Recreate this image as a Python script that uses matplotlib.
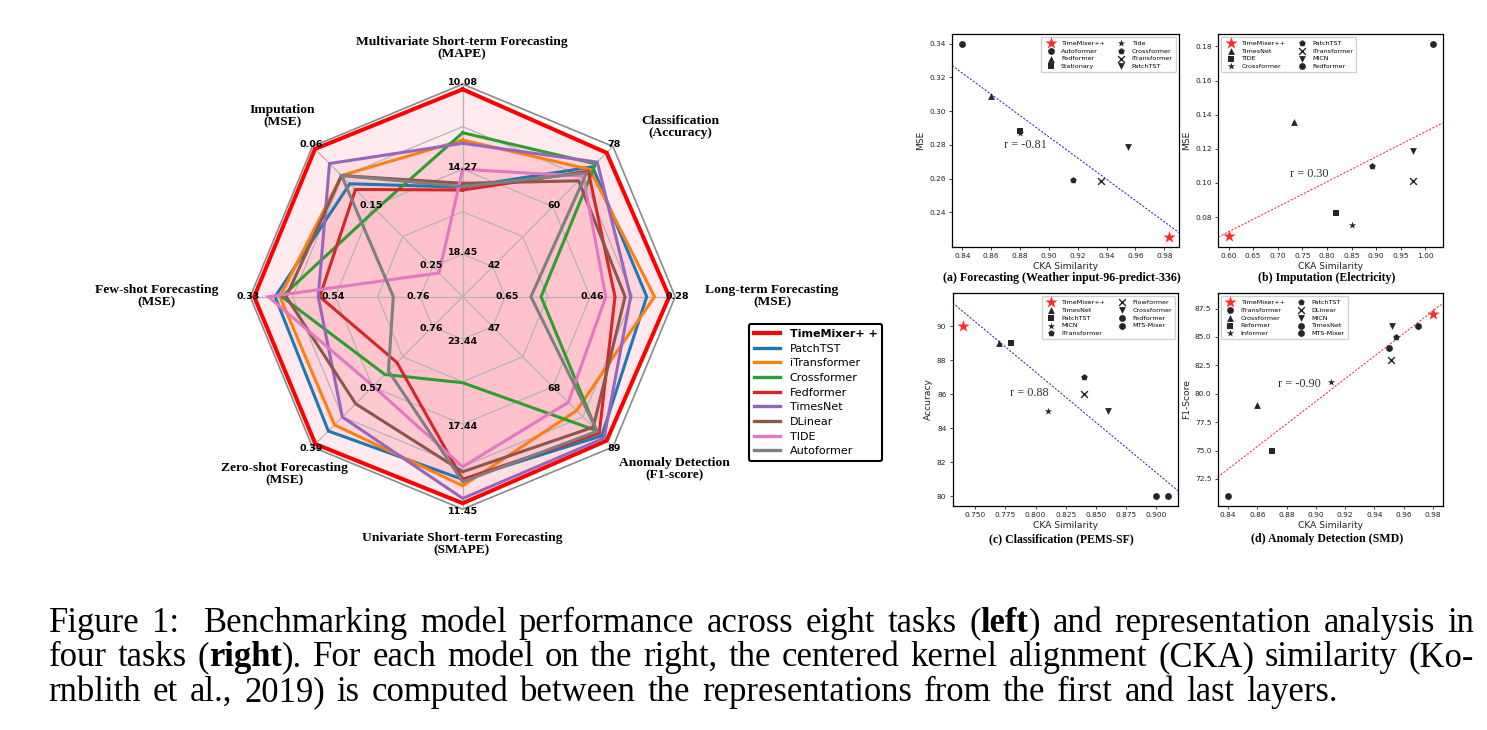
import numpy as np
import matplotlib
matplotlib.use("Agg")
import matplotlib.pyplot as plt
from matplotlib.lines import Line2D
from matplotlib.ticker import FormatStrFormatter

SERIF = "Liberation Serif"
SANS = "DejaVu Sans"

# ------------------------------------------------------------------ radar data
task_titles = [
    "Multivariate Short-term Forecasting\n(MAPE)",
    "Classification\n(Accuracy)",
    "Long-term Forecasting\n(MSE)",
    "Anomaly Detection\n(F1-score)",
    "Univariate Short-term Forecasting\n(SMAPE)",
    "Zero-shot Forecasting\n(MSE)",
    "Few-shot Forecasting\n(MSE)",
    "Imputation\n(MSE)",
]
# metric value printed on the inner ring (0.2) and on the outer ring (1.0)
axis_inner = [18.45, 42, 0.65, 47, 23.44, 0.76, 0.76, 0.25]
axis_outer = [10.08, 78, 0.28, 89, 11.45, 0.39, 0.33, 0.06]
label_inner = ["18.45", "42", "0.65", "47", "23.44", "0.76", "0.76", "0.25"]
label_mid = ["14.27", "60", "0.46", "68", "17.44", "0.57", "0.54", "0.15"]
label_outer = ["10.08", "78", "0.28", "89", "11.45", "0.39", "0.33", "0.06"]

model_names = ["TimeMixer+ +", "PatchTST", "iTransformer", "Crossformer", "Fedformer",
               "TimesNet", "DLinear", "TIDE", "Autoformer"]
timemixerpp = [10.33, 76.1, 0.293, 86.8, 11.87, 0.399, 0.340, 0.064]
patchtst = [15.15, 71.9, 0.342, 85.1, 13.55, 0.439, 0.393, 0.119]
itransformer = [12.83, 71.1, 0.325, 76.3, 13.10, 0.458, 0.405, 0.106]
crossformer = [12.47, 72.8, 0.572, 83.3, 20.37, 0.613, 0.410, 0.160]
fedformer = [15.29, 70.6, 0.411, 84.2, 13.55, 0.650, 0.506, 0.128]
timesnet = [12.99, 73.3, 0.377, 85.9, 12.21, 0.482, 0.502, 0.087]
dlinear = [14.96, 67.7, 0.389, 82.1, 14.09, 0.523, 0.421, 0.106]
tide = [14.27, 69.1, 0.431, 73.4, 14.45, 0.577, 0.376, 0.260]
autoformer = [15.12, 70.1, 0.594, 83.5, 13.38, 0.624, 0.692, 0.106]
model_values = [timemixerpp, patchtst, itransformer, crossformer, fedformer,
                timesnet, dlinear, tide, autoformer]
model_colors = ["#ff0000", "tab:blue", "tab:orange", "tab:green", "tab:red",
                "tab:purple", "tab:brown", "tab:pink", "tab:gray"]

# ------------------------------------------------------------------ scatter data
a_names = ["TimeMixer++", "Autoformer", "Fedformer", "Stationary", "Tide",
           "Crossformer", "iTransformer", "PatchTST"]
a_cka = [0.983, 0.84, 0.86, 0.88, 0.88, 0.917, 0.936, 0.955]
a_mse = [0.2254, 0.340, 0.309, 0.288, 0.287, 0.2594, 0.2584, 0.279]
a_r = "r = -0.81"

b_names = ["TimeMixer++", "TimesNet", "TIDE", "Crossformer", "PatchTST",
           "iTransformer", "MICN", "Fedformer"]
b_cka = [0.60, 0.734, 0.818, 0.85, 0.8915, 0.974, 0.974, 1.0156]
b_mse = [0.069, 0.1355, 0.0823, 0.0751, 0.1097, 0.1009, 0.1185, 0.1816]
b_r = "r = 0.30"

c_names = ["TimeMixer++", "TimesNet", "PatchTST", "MICN", "iTransformer",
           "Flowformer", "Crossformer", "Fedformer", "MTS-Mixer"]
c_cka = [0.7397, 0.77, 0.78, 0.81, 0.84, 0.84, 0.86, 0.90, 0.91]
c_acc = [90, 89, 89, 85, 87, 86, 85, 80, 80]
c_r = "r = 0.88"

d_names = ["TimeMixer++", "iTransformer", "Crossformer", "Reformer", "Informer",
           "PatchTST", "DLinear", "MICN", "TimesNet", "MTS-Mixer"]
d_cka = [0.98, 0.84, 0.86, 0.87, 0.91, 0.955, 0.951, 0.952, 0.95, 0.97]
d_f1 = [87, 71, 79, 75, 81, 85, 83, 86, 84, 86]
d_r = "r = -0.90"

# ------------------------------------------------------------------ figure
W, H = 1487, 730
fig = plt.figure(figsize=(W / 100, H / 100), dpi=100)
fig.patch.set_facecolor("white")


def fx(x):
    return x / W


def fy(y):
    return 1 - y / H


def px_box(l, t, r, b):
    return [l / W, 1 - b / H, (r - l) / W, (b - t) / H]


# ------------------------------------------------------------------ radar
CX, CY, R = 462.7, 296.7, 212.5
RMAX = 1.1
half = R * RMAX
ax = fig.add_axes([(CX - half) / W, (H - CY - half) / H, 2 * half / W, 2 * half / H],
                  projection="polar")
ax.set_theta_offset(np.pi / 2)
ax.set_theta_direction(-1)
ax.set_ylim(0, RMAX)
ax.axis("off")

n_ax = len(task_titles)
theta = np.arange(n_ax) * 2 * np.pi / n_ax
theta_c = np.append(theta, theta[0])


def to_radius(vals):
    v = np.asarray(vals, float)
    lo = np.asarray(axis_inner, float)
    hi = np.asarray(axis_outer, float)
    return 0.2 + 0.8 * (v - lo) / (hi - lo)


# fills
for vals in model_values:
    rr = to_radius(vals)
    ax.fill(theta_c, np.append(rr, rr[0]), color="pink", alpha=0.3, lw=0, zorder=1)

# polygonal grid
for rg in [0.2, 0.4, 0.6, 0.8]:
    ax.plot(theta_c, [rg] * len(theta_c), color="#b4b4b4", lw=0.9, zorder=2)
ax.plot(theta_c, [1.0] * len(theta_c), color="#8a8a8a", lw=1.2, zorder=2)
for t in theta:
    ax.plot([t, t], [0, 1.0], color="#b4b4b4", lw=0.9, zorder=2)

# model polygons
for i, (vals, col) in enumerate(zip(model_values, model_colors)):
    rr = to_radius(vals)
    ax.plot(theta_c, np.append(rr, rr[0]), color=col,
            lw=2.9 if i == 0 else 2.2, zorder=3 + i, solid_joinstyle="miter")

# ring value labels
for i, t in enumerate(theta):
    for rl, lab in zip([0.2, 0.6, 1.0], [label_inner[i], label_mid[i], label_outer[i]]):
        ax.text(t, rl + 0.01, lab, ha="center", va="center", fontsize=6.8,
                fontweight="bold", family=SANS, zorder=30)

# task titles
title_px = [(462, 48), (680, 127), (772, 296), (674, 469),
            (462, 544), (284, 474), (157, 296), (282.5, 116)]
for txt, (x, y) in zip(task_titles, title_px):
    fig.text(fx(x), fy(y), txt, ha="center", va="center", fontsize=9.7,
             family=SERIF, fontweight="bold", linespacing=1.05)

# legend
handles = [Line2D([0], [0], color=c, lw=3.0 if i == 0 else 2.4)
           for i, c in enumerate(model_colors)]
leg = fig.legend(handles, model_names, loc="upper left",
                 bbox_to_anchor=(fx(749), fy(324)), bbox_transform=fig.transFigure,
                 borderaxespad=0, fontsize=8, handlelength=2.3, handletextpad=0.9,
                 labelspacing=0.42, borderpad=0.45, frameon=True, fancybox=True,
                 framealpha=1)
leg.get_frame().set_edgecolor("black")
leg.get_frame().set_linewidth(1.5)
leg.get_texts()[0].set_fontweight("bold")

# ------------------------------------------------------------------ scatter panels
marker_sets = {
    "a": ["*", "o", "^", "s", "*", "p", "x", "v"],
    "b": ["*", "^", "s", "*", "p", "x", "v", "o"],
    "c": ["*", "^", "s", "*", "p", "x", "v", "o", "o"],
    "d": ["*", "o", "^", "s", "*", "p", "x", "v", "o", "o"],
}
tick_specs = {
    "a": (np.arange(0.84, 0.981, 0.02), "%.2f", np.arange(0.24, 0.341, 0.02), "%.2f"),
    "b": (np.arange(0.60, 1.001, 0.05), "%.2f", np.arange(0.08, 0.181, 0.02), "%.2f"),
    "c": (np.arange(0.75, 0.901, 0.025), "%.3f", np.arange(80, 90.1, 2), "%d"),
    "d": (np.arange(0.84, 0.981, 0.02), "%.2f", np.arange(72.5, 87.6, 2.5), "%.1f"),
}


def scatter_panel(key, box, names, xs, ys, line_color, r_text, r_xy, loc, ylabel):
    sax = fig.add_axes(px_box(*box))
    mk = marker_sets[key]
    for i, (n, x, y) in enumerate(zip(names, xs, ys)):
        if i == 0:
            sax.scatter([x], [y], marker="*", s=85, color="#ff2a2a", label=n, zorder=3,
                        linewidths=0)
        else:
            kw = dict(linewidths=1.0) if mk[i] == "x" else dict(linewidths=0)
            sax.scatter([x], [y], marker=mk[i], s=24 if mk[i] != "*" else 30,
                        color="#262626", label=n, zorder=3, **kw)
    xl = sax.get_xlim()
    k, b = np.polyfit(xs, ys, 1)
    xx = np.array(xl)
    sax.plot(xx, k * xx + b, ls=(0, (2.2, 1.6)), color=line_color, lw=0.7,
             scalex=False, zorder=2)
    sax.set_xlim(xl)
    yl = sax.get_ylim()
    xt, xf, yt, yf = tick_specs[key]
    sax.set_xticks(xt)
    sax.set_yticks(yt)
    sax.xaxis.set_major_formatter(FormatStrFormatter(xf))
    sax.yaxis.set_major_formatter(FormatStrFormatter(yf))
    sax.set_xlim(xl)
    sax.set_ylim(yl)
    sax.text(r_xy[0], r_xy[1], r_text, ha="left", va="center", fontsize=8.8,
             family=SERIF, color="#333333")
    sax.legend(loc=loc, ncol=2, fontsize=4.6, labelspacing=0.35, handletextpad=0.6,
               columnspacing=1.6, borderpad=0.5, framealpha=0.9, edgecolor="0.8",
               fancybox=True)
    sax.tick_params(labelsize=5.3, length=2.5, width=0.6, pad=2, colors="#222222")
    sax.set_xlabel("CKA Similarity", fontsize=6.6, labelpad=2.5, color="#222222")
    sax.set_ylabel(ylabel, fontsize=6.6, labelpad=3, color="#222222")
    for sp in sax.spines.values():
        sp.set_linewidth(0.9)
    return sax


scatter_panel("a", (952, 34, 1179, 246.7), a_names, a_cka, a_mse, "#1f1fbf",
              a_r, (0.869, 0.280), "upper right", "MSE")
scatter_panel("b", (1218.3, 34, 1443.3, 246.7), b_names, b_cka, b_mse, "#ff2020",
              b_r, (0.7255, 0.1054), "upper left", "MSE")
scatter_panel("c", (952.7, 293.3, 1178.3, 505.7), c_names, c_cka, c_acc, "#1f1fbf",
              c_r, (0.779, 86.07), "upper right", "Accuracy")
scatter_panel("d", (1217.7, 293.3, 1443.3, 505.7), d_names, d_cka, d_f1, "#ff2020",
              d_r, (0.874, 80.9), "upper left", "F1-Score")

# ------------------------------------------------------------------ text helpers
renderer = fig.canvas.get_renderer()


def measure(s, size, weight="normal", family=SERIF):
    if s == "":
        return 0.0
    t = fig.text(0, 0, s, fontsize=size, fontweight=weight, family=family)
    w = t.get_window_extent(renderer=renderer).width
    t.remove()
    return w


# sub-captions, sized to the reference width
subcaps = [("(a) Forecasting (Weather input-96-predict-336)", 936.7, 1187, 278.3),
           ("(b) Imputation (Electricity)", 1255, 1399, 278.3),
           ("(c) Classification (PEMS-SF)", 985, 1138, 539.3),
           ("(d) Anomaly Detection (SMD)", 1247.7, 1406.7, 539.3)]
for s, x0, x1, yc in subcaps:
    size = 0.95 * 10 * (x1 - x0) / measure(s, 10, "bold")
    fig.text(fx((x0 + x1) / 2), fy(yc), s, ha="center", va="center", fontsize=size,
             family=SERIF, fontweight="bold")

# main caption (justified lines)
cap_lines = [
    [[("Figure", "normal")], [("1:", "normal")], [("", "normal")]] +
    [[(w, "normal")] for w in "Benchmarking model performance across eight tasks".split()] +
    [[("(", "normal"), ("left", "bold"), (")", "normal")]] +
    [[(w, "normal")] for w in "and representation analysis in".split()],
    [[(w, "normal")] for w in "four tasks".split()] +
    [[("(", "normal"), ("right", "bold"), (").", "normal")]] +
    [[(w, "normal")] for w in "For each model on the right, the centered kernel alignment (CKA) similarity (Ko-".split()],
    [[(w, "normal")] for w in "rnblith et al., 2019) is computed between the representations from the first and last layers.".split()],
]
cap_left = 48.5
cap_right = [1474, 1474, 1338]
cap_base = [632, 666.5, 701]
line3 = "rnblith et al., 2019) is computed between the representations from the first and last layers."
cap_size = 0.965 * 20 * (1338 - cap_left) / measure(line3, 20)

for words, xr, yb in zip(cap_lines, cap_right, cap_base):
    widths = [sum(measure(s, cap_size, w) for s, w in word) for word in words]
    gap = (xr - cap_left - sum(widths)) / (len(words) - 1)
    x = cap_left
    for word, ww in zip(words, widths):
        xx = x
        for s, w in word:
            if s:
                fig.text(fx(xx), fy(yb), s, fontsize=cap_size, fontweight=w,
                         family=SERIF, ha="left", va="baseline")
                xx += measure(s, cap_size, w)
        x += ww + gap

fig.savefig("out.png", dpi=100, facecolor="white")
